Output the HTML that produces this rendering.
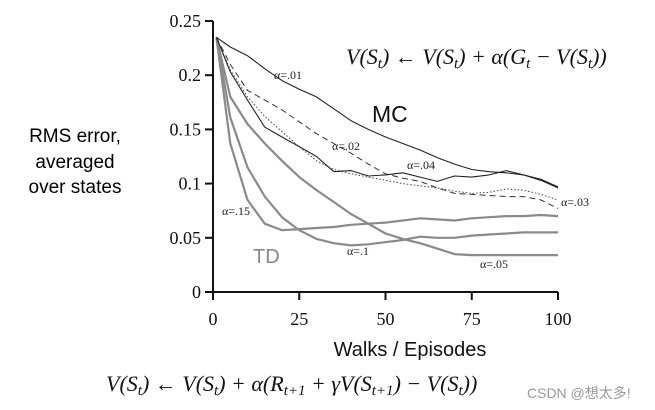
<!DOCTYPE html>
<html><head><meta charset="utf-8"><style>
body{margin:0;background:#fff;width:655px;height:410px;overflow:hidden}
svg{display:block}
.tk{font-family:"Liberation Serif",serif;font-size:18px;fill:#111}
.sans{font-family:"Liberation Sans",sans-serif}
.math{font-family:"Liberation Serif",serif;font-size:22px;fill:#111}
.lab{font-family:"Liberation Serif",serif;font-size:12px;fill:#222}
</style></head><body>
<svg id="chart" width="655" height="410">
<g id="axes"></g><g id="series"></g>
<text class="sans" x="75" y="142" font-size="19" text-anchor="middle">RMS error,</text>
<text class="sans" x="75" y="168" font-size="19" text-anchor="middle">averaged</text>
<text class="sans" x="75" y="193" font-size="19" text-anchor="middle">over states</text>
<text class="sans" x="410" y="356" font-size="20" text-anchor="middle" fill="#111">Walks / Episodes</text>
<text class="sans" x="372" y="122" font-size="23" fill="#111">MC</text>
<text class="sans" x="253" y="263" font-size="20" fill="#888">TD</text>
<text class="lab" x="274" y="79">α=.01</text>
<text class="lab" x="332" y="150">α=.02</text>
<text class="lab" x="407" y="169">α=.04</text>
<text class="lab" x="561" y="206">α=.03</text>
<text class="lab" x="222" y="215">α=.15</text>
<text class="lab" x="347" y="255">α=.1</text>
<text class="lab" x="480" y="268">α=.05</text>
<text class="math" x="346" y="64" font-style="italic">V(S<tspan font-size="15" dy="4">t</tspan><tspan dy="-4">) ← V(S</tspan><tspan font-size="15" dy="4">t</tspan><tspan dy="-4">) + α(G</tspan><tspan font-size="15" dy="4">t</tspan><tspan dy="-4"> − V(S</tspan><tspan font-size="15" dy="4">t</tspan><tspan dy="-4">))</tspan></text>
<text class="math" x="106" y="391" font-style="italic">V(S<tspan font-size="15" dy="4">t</tspan><tspan dy="-4">) ← V(S</tspan><tspan font-size="15" dy="4">t</tspan><tspan dy="-4">) + α(R</tspan><tspan font-size="15" dy="4">t+1</tspan><tspan dy="-4"> + γV(S</tspan><tspan font-size="15" dy="4">t+1</tspan><tspan dy="-4">) − V(S</tspan><tspan font-size="15" dy="4">t</tspan><tspan dy="-4">))</tspan></text>
<text x="527" y="398" font-family="'Liberation Sans','Noto Sans CJK SC',sans-serif" font-size="14" fill="#999">CSDN @想太多!</text>
</svg>
<script>
const episodes=[0,5,10,15,20,25,30,35,40,45,50,55,60,65,70,75,80,85,90,95,100];
const mc01=[0.235,0.226,0.218,0.206,0.195,0.187,0.18,0.169,0.158,0.15,0.143,0.137,0.131,0.124,0.118,0.113,0.111,0.11,0.108,0.103,0.096];
const mc02=[0.235,0.21,0.186,0.177,0.168,0.157,0.146,0.137,0.128,0.118,0.109,0.105,0.102,0.096,0.091,0.09,0.089,0.088,0.088,0.085,0.077];
const mc03=[0.235,0.205,0.18,0.162,0.148,0.134,0.121,0.113,0.109,0.106,0.103,0.1,0.098,0.096,0.093,0.091,0.092,0.095,0.094,0.09,0.085];
const mc04=[0.235,0.203,0.177,0.152,0.143,0.134,0.125,0.111,0.112,0.107,0.108,0.11,0.106,0.102,0.107,0.106,0.108,0.112,0.108,0.104,0.097];
const td15=[0.235,0.137,0.085,0.063,0.057,0.058,0.059,0.06,0.062,0.063,0.064,0.066,0.068,0.067,0.066,0.068,0.069,0.07,0.07,0.071,0.07];
const td10=[0.235,0.161,0.115,0.088,0.069,0.057,0.049,0.045,0.043,0.044,0.046,0.048,0.051,0.05,0.05,0.052,0.053,0.054,0.055,0.055,0.055];
const td05=[0.235,0.18,0.155,0.137,0.121,0.106,0.094,0.083,0.072,0.063,0.054,0.049,0.045,0.04,0.035,0.034,0.034,0.034,0.034,0.034,0.034];
const xTicks=[0,25,50,75,100];
const yTicks=[0,0.05,0.1,0.15,0.2,0.25];
const yTickLabels=["0","0.05","0.1","0.15","0.2","0.25"];
const NS="http://www.w3.org/2000/svg";
const X0=213,X1=558,Y0=292,Y1=21;
const xs=v=>X0+(X1-X0)*v/100;
const ys=v=>Y0-(Y0-Y1)*v/0.25;
function mk(t,a,p){const e=document.createElementNS(NS,t);for(const k in a)e.setAttribute(k,a[k]);p.appendChild(e);return e;}
const ax=document.getElementById('axes');
const yl=mk('line',{x1:X0,y1:Y1,x2:X0,y2:Y0,stroke:'#111','stroke-width':2},ax);


const xl=mk('line',{x1:X0,y1:Y0,x2:X1,y2:Y0,stroke:'#111','stroke-width':2},ax);


yTicks.forEach((v,i)=>{
 const l=mk('line',{x1:X0-8,y1:ys(v),x2:X0,y2:ys(v),stroke:'#111','stroke-width':2},ax);
 
 
 const t=mk('text',{x:X0-12,y:ys(v)+6,'text-anchor':'end',class:'tk'},ax);t.textContent=yTickLabels[i];
 
 
});
xTicks.forEach(v=>{
 const l=mk('line',{x1:xs(v),y1:Y0,x2:xs(v),y2:Y0+8,stroke:'#111','stroke-width':2},ax);
 
 
 const t=mk('text',{x:xs(v),y:Y0+33,'text-anchor':'middle',class:'tk'},ax);t.textContent=v;
 
 
});
const sg=document.getElementById('series');
function line(vals,name,col,w,dash){
 const d=vals.map((v,i)=>(i?'L':'M')+xs(Math.max(episodes[i],1)).toFixed(1)+','+ys(v).toFixed(1)).join('');
 const p=mk('path',{d:d,fill:'none',stroke:col,'stroke-width':w,'stroke-linejoin':'round'},sg);
 if(dash)p.setAttribute('stroke-dasharray',dash);
 
 
}
line(td15,'td-alpha-0.15-line','#8a8a8a',2.2);
line(td10,'td-alpha-0.1-line','#8a8a8a',2.2);
line(td05,'td-alpha-0.05-line','#8a8a8a',2.2);
line(mc01,'mc-alpha-0.01-line','#222',1.1);
line(mc02,'mc-alpha-0.02-line','#333',1,'6,4');
line(mc03,'mc-alpha-0.03-line','#444',1,'1.5,2');
line(mc04,'mc-alpha-0.04-line','#222',1.1);
</script>
</body></html>
